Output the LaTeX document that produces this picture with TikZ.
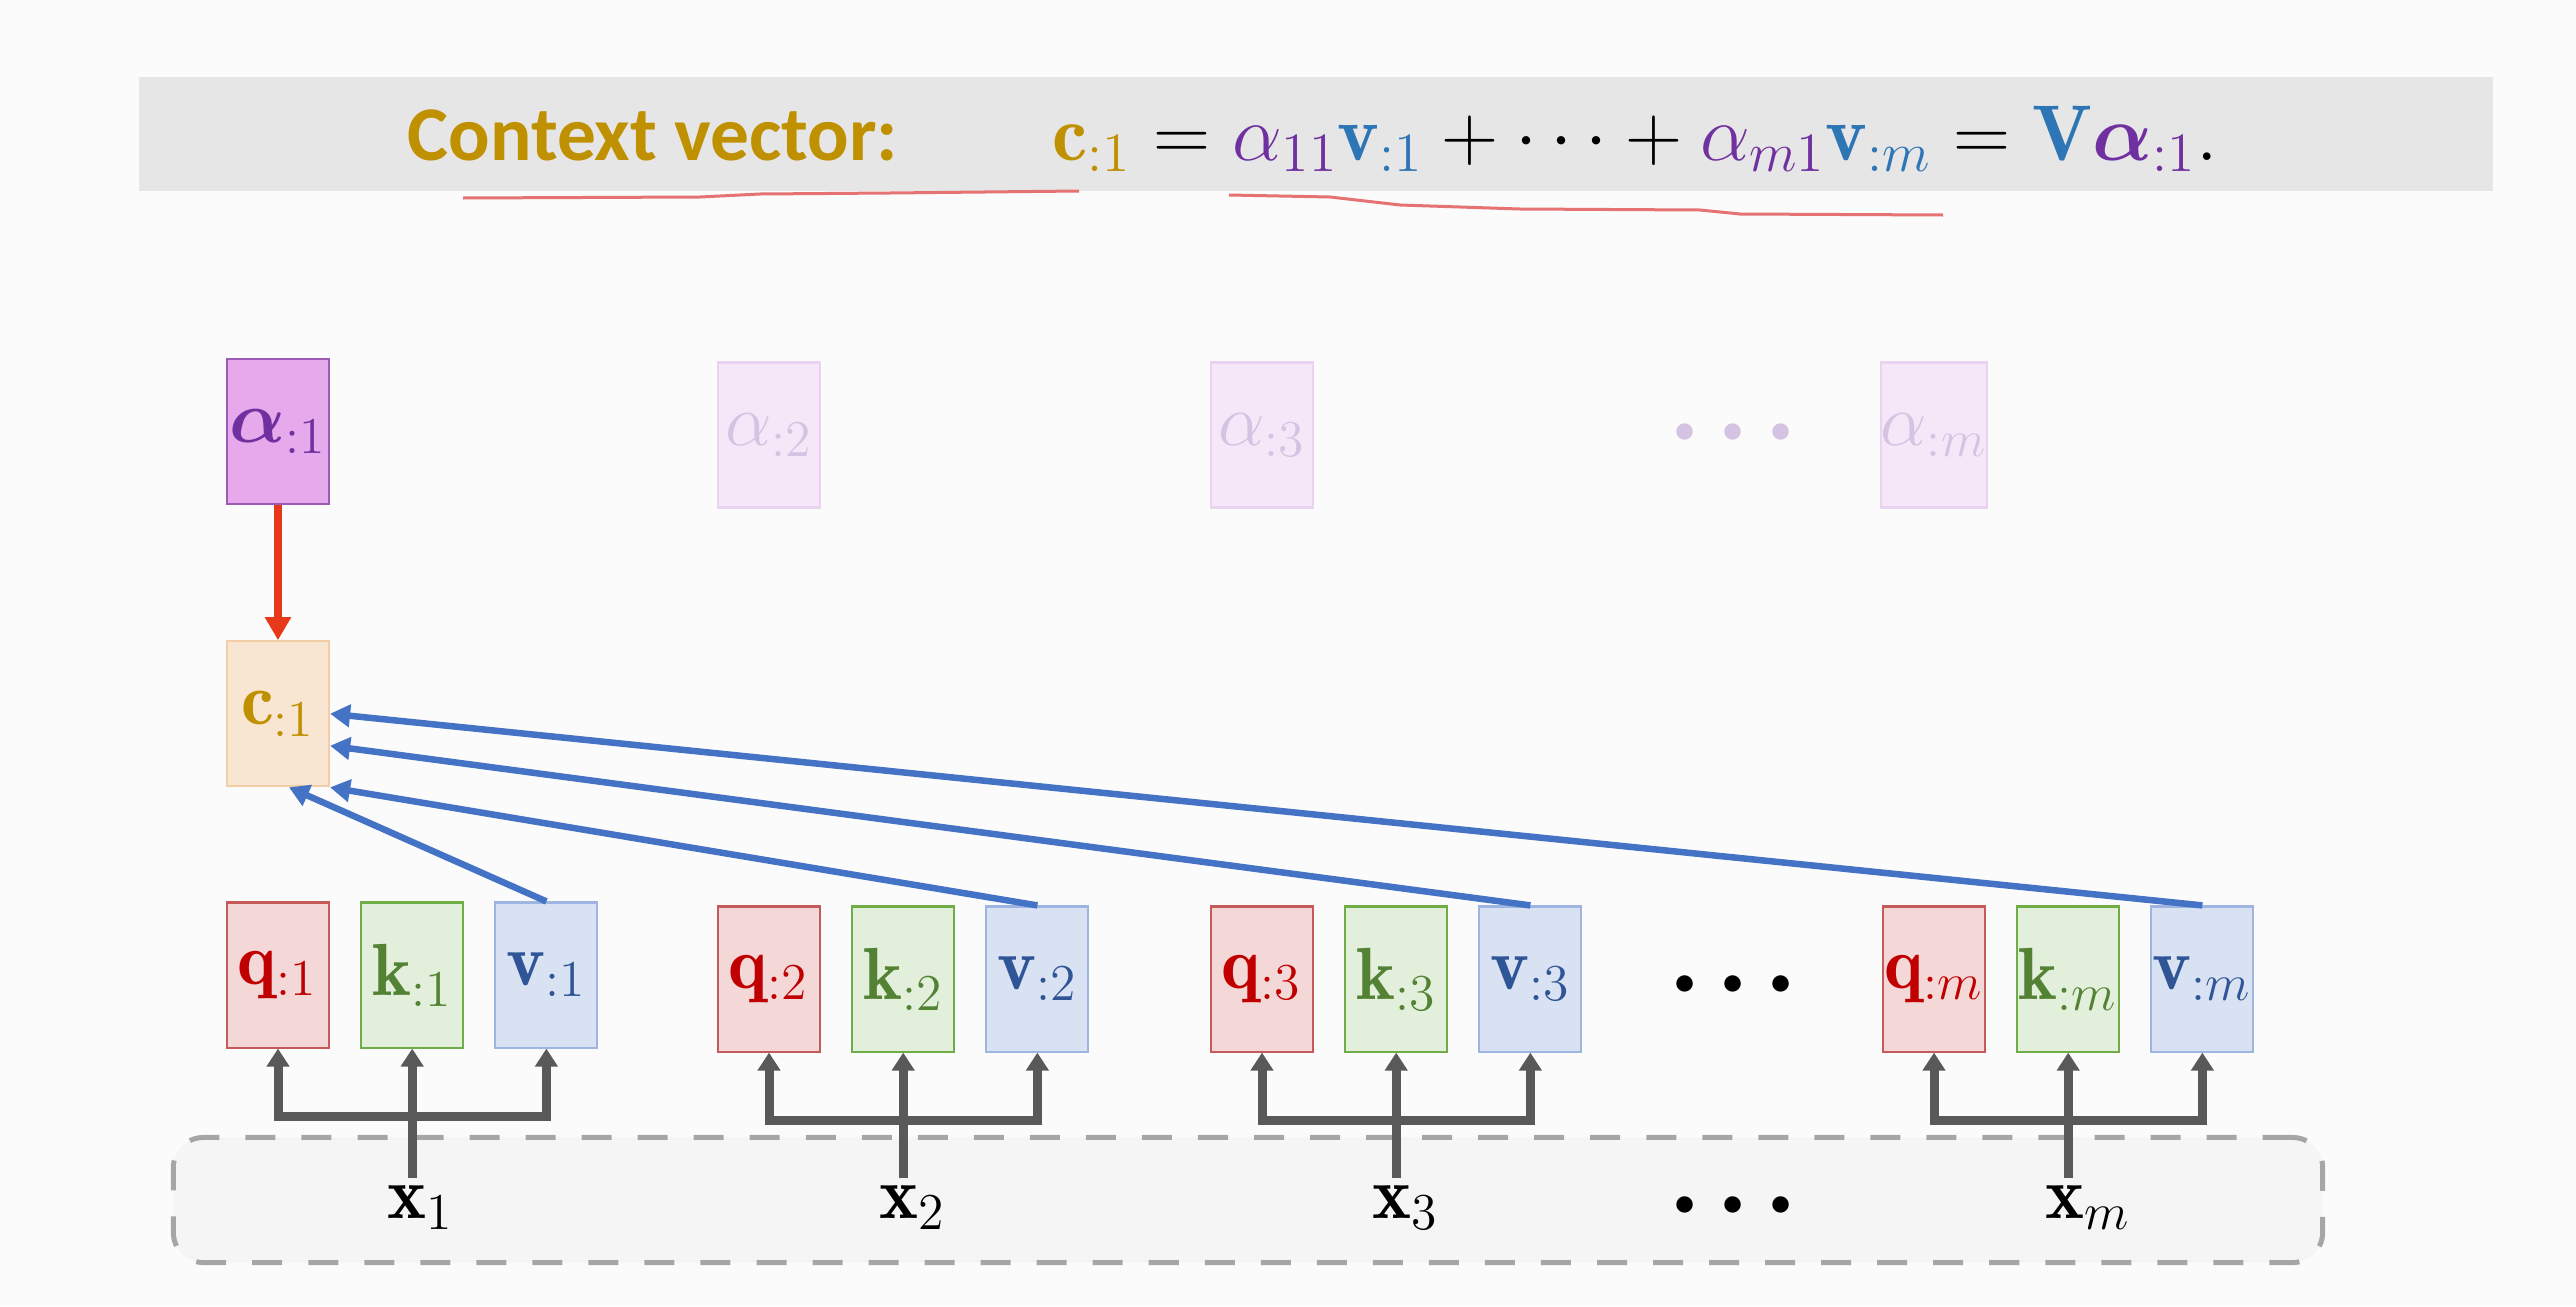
\RequirePackage{fix-cm}
\documentclass[tikz,border=0pt]{standalone}
\usepackage{amsmath,bm}
\usepackage{fontspec}
\newfontfamily\calibri{Carlito}
\usetikzlibrary{arrows.meta, positioning, calc}

\definecolor{bgcol}{HTML}{FBFBFB}
\definecolor{bandcol}{HTML}{E7E6E6}
\definecolor{goldtxt}{HTML}{BF9000}
\definecolor{purtxt}{HTML}{7030A0}
\definecolor{bluetxt}{HTML}{2E75B6}
\definecolor{afill}{HTML}{E6A9EC}
\definecolor{adraw}{HTML}{9C5BB5}
\definecolor{ffill}{HTML}{F6E7F8}
\definecolor{fdraw}{HTML}{E9D3EE}
\definecolor{ftxt}{HTML}{D5C3E3}
\definecolor{cfill}{HTML}{F8E5D2}
\definecolor{cdraw}{HTML}{F2CDA6}
\definecolor{qfill}{HTML}{F4D8D8}
\definecolor{qdraw}{HTML}{C55A5A}
\definecolor{qtxt}{HTML}{C00000}
\definecolor{kfill}{HTML}{E2EFDA}
\definecolor{kdraw}{HTML}{70AD47}
\definecolor{ktxt}{HTML}{548235}
\definecolor{vfill}{HTML}{D9E2F3}
\definecolor{vdraw}{HTML}{9DB5E0}
\definecolor{vtxt}{HTML}{2F5597}
\definecolor{arrblue}{HTML}{4472C4}
\definecolor{arrgray}{HTML}{595959}
\definecolor{arrred}{HTML}{E8381A}
\definecolor{dashcol}{HTML}{A6A6A6}
\definecolor{inpfill}{HTML}{F5F5F5}
\definecolor{penred}{HTML}{E57373}

\newcommand{\bigdots}{$\bullet\hspace{0.42em}\bullet\hspace{0.42em}\bullet$}

\begin{document}
\begin{tikzpicture}[x=0.01cm, y=-0.01cm,
    vec/.style={draw, minimum width=1.02cm, minimum height=1.45cm, inner sep=0pt, line width=0.6pt, font=\fontsize{21}{25}\selectfont},
    abox/.style={vec, fill=afill, draw=adraw, text=purtxt},
    fbox/.style={vec, fill=ffill, draw=fdraw, text=ftxt},
    cbox/.style={vec, fill=cfill, draw=cdraw, text=goldtxt},
    qbox/.style={vec, fill=qfill, draw=qdraw, text=qtxt},
    kbox/.style={vec, fill=kfill, draw=kdraw, text=ktxt},
    vbox/.style={vec, fill=vfill, draw=vdraw, text=vtxt},
    xlab/.style={inner sep=2pt, font=\fontsize{21}{25}\selectfont},
    dotlab/.style={inner sep=0pt, font=\fontsize{12}{14}\selectfont},
    grayarrow/.style={-{Triangle[length=1.8mm,width=2.2mm]}, line width=0.09cm, draw=arrgray},
    bluearrow/.style={-{Triangle[length=2mm,width=2.2mm]}, line width=0.065cm, draw=arrblue},
    redarrow/.style={-{Triangle[length=2.3mm,width=2.5mm]}, line width=0.08cm, draw=arrred},
    penline/.style={draw=penred, line width=0.03cm},
    node distance=3mm
]
    % Background
    \fill[bgcol] (0,0) rectangle (2576,1306);
    \useasboundingbox (0,0) rectangle (2576,1306);

    % Title band
    \node[fill=bandcol, minimum width=23.52cm, minimum height=1.14cm, inner sep=0pt] (band) at (1316,134) {};
    \node[anchor=base west, inner sep=0pt, text=goldtxt, font=\calibri\bfseries\fontsize{22}{26}\selectfont] (ttl) at (407,160) {Context vector:};
    \node[anchor=base west, inner sep=0pt, font=\fontsize{22.5}{27}\selectfont] (eq) at (1052,160)
        {$\textcolor{goldtxt}{\mathbf{c}_{:1}} = \textcolor{purtxt}{\alpha_{11}}\textcolor{bluetxt}{\mathbf{v}_{:1}} + \cdots + \textcolor{purtxt}{\alpha_{m1}}\textcolor{bluetxt}{\mathbf{v}_{:m}} = \textcolor{bluetxt}{\mathbf{V}}\textcolor{purtxt}{\bm{\alpha}_{:1}}.$};
    % Pen marks
    \draw[penline] (463,198) -- (700,197) -- (760,194) -- (890,193) -- (1079,191);
    \draw[penline] (1229,195) -- (1330,197) -- (1400,205) -- (1520,209) -- (1700,210) -- (1740,214) -- (1943,215);

    % Input sequence
    \node[draw=dashcol, fill=inpfill, dash pattern=on 0.3cm off 0.26cm, line width=0.05cm, rounded corners=0.3cm,
        minimum width=21.48cm, minimum height=1.25cm] (inp) at (1248,1200) {};
    \node[xlab] (x1) at (421,1208) {$\mathbf{x}_1$};
    \node[xlab] (x2) at (913,1208) {$\mathbf{x}_2$};
    \node[xlab] (x3) at (1406,1208) {$\mathbf{x}_3$};
    \node[dotlab] (xdots) at (1733,1206) {\bigdots};
    \node[xlab] (xm) at (2088,1208) {$\mathbf{x}_m$};

    % Queries, keys, values
    \node[qbox] (q1) at (278,975) {$\mathbf{q}_{:1}$};
    \node[kbox, right=of q1] (k1) {$\mathbf{k}_{:1}$};
    \node[vbox, right=of k1] (v1) {$\mathbf{v}_{:1}$};
    \node[qbox] (q2) at (769,979) {$\mathbf{q}_{:2}$};
    \node[kbox, right=of q2] (k2) {$\mathbf{k}_{:2}$};
    \node[vbox, right=of k2] (v2) {$\mathbf{v}_{:2}$};
    \node[qbox] (q3) at (1262,979) {$\mathbf{q}_{:3}$};
    \node[kbox, right=of q3] (k3) {$\mathbf{k}_{:3}$};
    \node[vbox, right=of k3] (v3) {$\mathbf{v}_{:3}$};
    \node[dotlab] (qdots) at (1733,985) {\bigdots};
    \node[qbox] (qm) at (1934,979) {$\mathbf{q}_{:m}$};
    \node[kbox, right=of qm] (km) {$\mathbf{k}_{:m}$};
    \node[vbox, right=of km] (vm) {$\mathbf{v}_{:m}$};

    % Context vector and weights
    \node[cbox, above=1.14cm of q1] (c1) {$\mathbf{c}_{:1}$};
    \node[abox, above=1.35cm of c1] (a1) {$\bm{\alpha}_{:1}$};
    \node[fbox] (a2) at (769,435) {$\alpha_{:2}$};
    \node[fbox] (a3) at (1262,435) {$\alpha_{:3}$};
    \node[dotlab, text=ftxt] (adots) at (1733,433) {\bigdots};
    \node[fbox] (am) at (1934,435) {$\alpha_{:m}$};

    % Arrows from inputs
    \coordinate[below=0.68cm of k1.south] (j1);
    \coordinate[below=0.68cm of k2.south] (j2);
    \coordinate[below=0.68cm of k3.south] (j3);
    \coordinate[below=0.68cm of km.south] (jm);
    \draw[grayarrow] (j1) -| (q1.south);
    \draw[grayarrow] (j1) -| (v1.south);
    \draw[grayarrow] (k1.south |- x1.north) -- (k1.south);
    \draw[grayarrow] (j2) -| (q2.south);
    \draw[grayarrow] (j2) -| (v2.south);
    \draw[grayarrow] (k2.south |- x2.north) -- (k2.south);
    \draw[grayarrow] (j3) -| (q3.south);
    \draw[grayarrow] (j3) -| (v3.south);
    \draw[grayarrow] (k3.south |- x3.north) -- (k3.south);
    \draw[grayarrow] (jm) -| (qm.south);
    \draw[grayarrow] (jm) -| (vm.south);
    \draw[grayarrow] (km.south |- xm.north) -- (km.south);

    % Weighted sum
    \draw[redarrow] (a1) -- (c1);
    \draw[bluearrow] (v1.north) -- ([xshift=0.11cm]c1.south);
    \draw[bluearrow] (v2.north) -- (c1.south east);
    \draw[bluearrow] (v3.north) -- ([yshift=-0.32cm]c1.east);
    \draw[bluearrow] (vm.north) -- (c1.east);
\end{tikzpicture}
\end{document}
